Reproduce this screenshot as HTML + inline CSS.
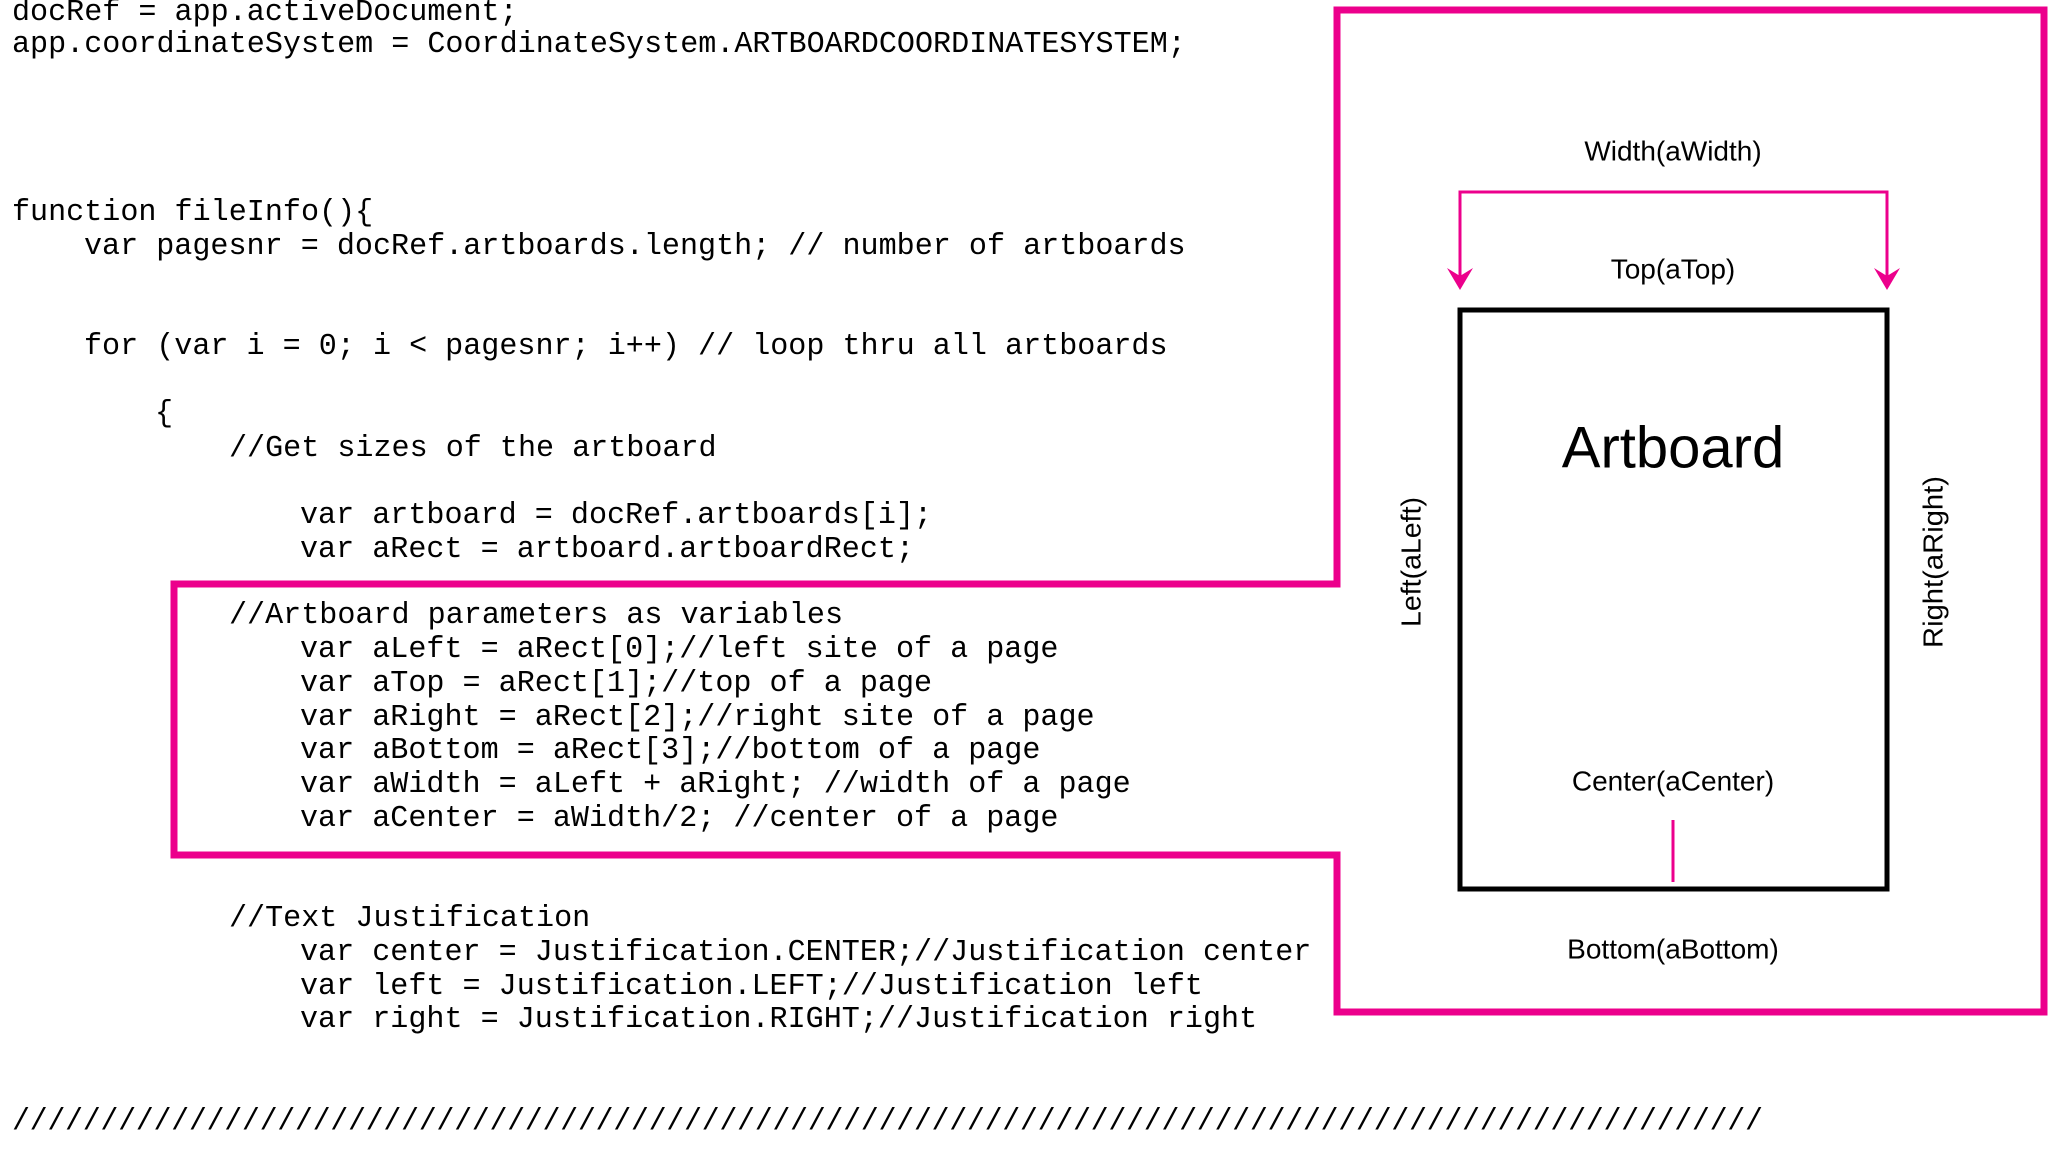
<!DOCTYPE html>
<html><head><meta charset="utf-8"><style>
html,body{margin:0;padding:0;background:#fff;}
svg{display:block;}
.c{font-family:"Liberation Mono",monospace;font-size:30.1px;fill:#000;white-space:pre;}
.l{font-family:"Liberation Sans",sans-serif;font-size:28px;fill:#000;}
</style></head><body>
<svg width="2048" height="1151" viewBox="0 0 2048 1151" xmlns="http://www.w3.org/2000/svg">
<g class="c" dominant-baseline="central" xml:space="preserve">
<text x="12" y="13">docRef = app.activeDocument;</text>
<text x="12" y="45">app.coordinateSystem = CoordinateSystem.ARTBOARDCOORDINATESYSTEM;</text>
<text x="12" y="213">function fileInfo(){</text>
<text x="84" y="247">var pagesnr = docRef.artboards.length; // number of artboards</text>
<text x="84" y="347">for (var i = 0; i &lt; pagesnr; i++) // loop thru all artboards</text>
<text x="155" y="414">{</text>
<text x="229" y="449">//Get sizes of the artboard</text>
<text x="300" y="516">var artboard = docRef.artboards[i];</text>
<text x="300" y="550">var aRect = artboard.artboardRect;</text>
<text x="229" y="616">//Artboard parameters as variables</text>
<text x="300" y="650">var aLeft = aRect[0];//left site of a page</text>
<text x="300" y="684">var aTop = aRect[1];//top of a page</text>
<text x="300" y="718">var aRight = aRect[2];//right site of a page</text>
<text x="300" y="751">var aBottom = aRect[3];//bottom of a page</text>
<text x="300" y="785">var aWidth = aLeft + aRight; //width of a page</text>
<text x="300" y="819">var aCenter = aWidth/2; //center of a page</text>
<text x="229" y="919">//Text Justification</text>
<text x="300" y="953">var center = Justification.CENTER;//Justification center</text>
<text x="300" y="987">var left = Justification.LEFT;//Justification left</text>
<text x="300" y="1020">var right = Justification.RIGHT;//Justification right</text>
<text x="12" y="1122" textLength="1751" lengthAdjust="spacing">///////////////////////////////////////////////////////////////////////////////////////////////////</text>
</g>
<path d="M1337 10 H2044 V1012 H1337 V855 H174 V584 H1337 Z" fill="none" stroke="#ec008c" stroke-width="7"/>
<rect x="1460" y="310" width="427" height="579" fill="none" stroke="#000" stroke-width="5"/>
<path d="M1460 287 V192 H1887 V287" fill="none" stroke="#ec008c" stroke-width="3"/>
<path d="M1447 268 L1460 290 L1473 268 L1460 276 Z" fill="#ec008c"/>
<path d="M1874 268 L1887 290 L1900 268 L1887 276 Z" fill="#ec008c"/>
<line x1="1673" y1="820" x2="1673" y2="882" stroke="#ec008c" stroke-width="3"/>
<g class="l" text-anchor="middle" dominant-baseline="central">
<text x="1673" y="151">Width(aWidth)</text>
<text x="1673" y="269">Top(aTop)</text>
<text x="1673" y="448" style="font-size:58px">Artboard</text>
<text x="1673" y="781">Center(aCenter)</text>
<text x="1673" y="949">Bottom(aBottom)</text>
<text transform="translate(1411 562) rotate(-90)" textLength="130" lengthAdjust="spacingAndGlyphs">Left(aLeft)</text>
<text transform="translate(1933 562) rotate(-90)" textLength="172" lengthAdjust="spacingAndGlyphs">Right(aRight)</text>
</g>
</svg>
</body></html>
